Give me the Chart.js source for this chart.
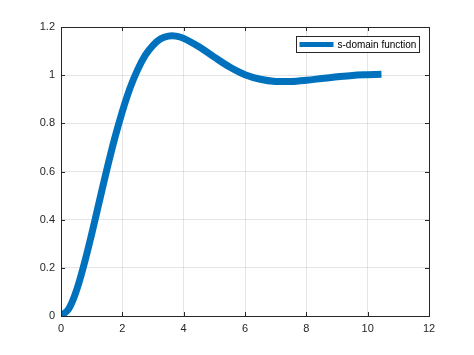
<!DOCTYPE html>
<html>
<head>
<meta charset="utf-8">
<script src="https://cdn.jsdelivr.net/npm/chart.js@4/dist/chart.umd.min.js"></script>
<style>
  html, body { margin: 0; padding: 0; background: #fff; }
  #wrap { width: 474px; height: 355px; }
</style>
</head>
<body>
<div id="wrap"><canvas id="stepChart"></canvas></div>
<script>
// values
const timeValues = [0, 0.25, 0.5, 0.75, 1, 1.25, 1.5, 1.75, 2, 2.25, 2.5, 2.75, 3, 3.25, 3.5, 3.75,
    4, 4.5, 5, 5.5, 6, 6.5, 7, 7.5, 8, 8.5, 9, 9.5, 10, 10.45];
const responseValues = [0, 0.029, 0.104, 0.213, 0.340, 0.476, 0.611, 0.737, 0.849, 0.946, 1.023, 1.083,
    1.124, 1.151, 1.162, 1.162, 1.153, 1.118, 1.075, 1.034, 1.002, 0.983, 0.974, 0.974, 0.979, 0.986,
    0.993, 0.999, 1.002, 1.004];
const seriesLabel = 's-domain function';
const xTicks = [0, 2, 4, 6, 8, 10, 12];
const yTicks = [0, 0.2, 0.4, 0.6, 0.8, 1, 1.2];

const axisColor = '#262626';
const lineColor = '#0072BD';

// box round the axes, inward ticks on all four sides, legend in the corner
const matlabAxes = {
    id: 'matlabAxes',
    afterDraw(chart) {
        const ctx = chart.ctx;
        const a = chart.chartArea;
        const xs = chart.scales.x, ys = chart.scales.y;
        const len = 4;
        ctx.save();
        ctx.strokeStyle = axisColor;
        ctx.lineWidth = 1;
        ctx.strokeRect(Math.round(a.left) + 0.5, Math.round(a.top) + 0.5,
            Math.round(a.right - a.left), Math.round(a.bottom - a.top));
        ctx.beginPath();
        xTicks.forEach(v => {
            const px = Math.round(xs.getPixelForValue(v)) + 0.5;
            ctx.moveTo(px, a.bottom); ctx.lineTo(px, a.bottom - len);
            ctx.moveTo(px, a.top); ctx.lineTo(px, a.top + len);
        });
        yTicks.forEach(v => {
            const py = Math.round(ys.getPixelForValue(v)) + 0.5;
            ctx.moveTo(a.left, py); ctx.lineTo(a.left + len, py);
            ctx.moveTo(a.right, py); ctx.lineTo(a.right - len, py);
        });
        ctx.stroke();

        // legend
        const ds = chart.data.datasets[0];
        const bx = 296.5, by = 36.5, bw = 123, bh = 16;
        ctx.fillStyle = '#fff';
        ctx.fillRect(bx, by, bw, bh);
        ctx.strokeStyle = axisColor;
        ctx.strokeRect(bx, by, bw, bh);
        ctx.strokeStyle = ds.borderColor;
        ctx.lineWidth = 5;
        ctx.beginPath();
        ctx.moveTo(bx + 3, by + bh / 2);
        ctx.lineTo(bx + 37, by + bh / 2);
        ctx.stroke();
        ctx.fillStyle = '#000';
        ctx.font = '10px "Liberation Sans", Arial, sans-serif';
        ctx.textBaseline = 'middle';
        ctx.fillText(ds.label, bx + 41, by + bh / 2 + 0.5);
        ctx.restore();
    }
};

const ctx = document.getElementById('stepChart').getContext('2d');
new Chart(ctx, {
    type: 'line',
    data: {
        datasets: [{
            label: seriesLabel,
            data: timeValues.map((t, i) => ({ x: t, y: responseValues[i] })),
            borderColor: lineColor,
            backgroundColor: lineColor,
            borderWidth: 7,
            pointRadius: 0,
            tension: 0.35,
            fill: false
        }]
    },
    options: {
        responsive: true,
        maintainAspectRatio: false,
        animation: false,
        layout: { padding: { top: 27, right: 45, left: 0, bottom: 0 } },
        plugins: {
            legend: { display: false },
            tooltip: { enabled: false }
        },
        scales: {
            x: {
                type: 'linear',
                min: 0,
                max: 12,
                afterFit: s => { s.height = 39; },
                afterBuildTicks: s => { s.ticks = xTicks.map(v => ({ value: v })); },
                grid: { color: 'rgba(0,0,0,0.1)', drawTicks: false },
                border: { display: false },
                ticks: {
                    color: axisColor,
                    font: { family: '"Liberation Sans", Arial, sans-serif', size: 11 },
                    padding: 6,
                    maxRotation: 0,
                    autoSkip: false
                }
            },
            y: {
                type: 'linear',
                min: 0,
                max: 1.2,
                afterFit: s => { s.width = 61; },
                afterBuildTicks: s => { s.ticks = yTicks.map(v => ({ value: v })); },
                grid: { color: 'rgba(0,0,0,0.1)', drawTicks: false },
                border: { display: false },
                ticks: {
                    color: axisColor,
                    font: { family: '"Liberation Sans", Arial, sans-serif', size: 11 },
                    padding: 6,
                    callback: v => String(+v.toFixed(1))
                }
            }
        }
    },
    plugins: [matlabAxes]
});
</script>
</body>
</html>
